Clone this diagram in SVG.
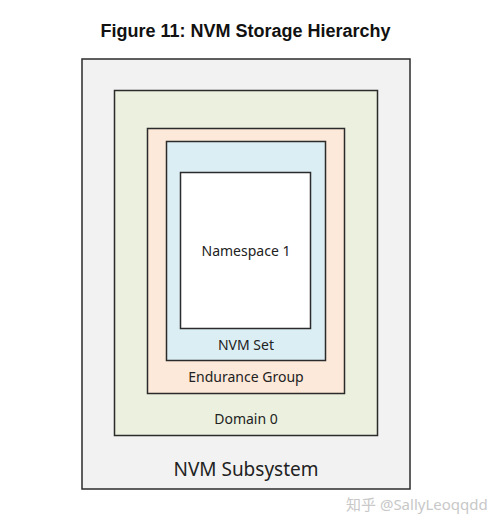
<svg xmlns="http://www.w3.org/2000/svg" width="501" height="528" viewBox="0 0 501 528">
<style>
.box{stroke:#2b2b2b;stroke-width:1.5}
.lbl{font-family:"Noto Sans","Open Sans",sans-serif;font-size:14px;fill:#222;text-anchor:middle}
.title{font-family:"Liberation Sans",Arial,sans-serif;font-size:18px;font-weight:bold;fill:#111;text-anchor:middle}
.wm{font-family:"Noto Sans","Noto Sans CJK SC",sans-serif;font-size:15px;fill:#c8c8c8;text-anchor:start}
</style>
<rect width="501" height="528" fill="#ffffff"/>
<text class="title" x="245.5" y="37">Figure 11: NVM Storage Hierarchy</text>
<g id="subsystem">
<rect class="box" x="82" y="59" width="328" height="430" fill="#f2f2f2"/>
<text class="lbl" x="246" y="476" style="font-size:19px">NVM Subsystem</text>
</g>
<g id="domain">
<rect class="box" x="114.5" y="90.5" width="263" height="345" fill="#ebf1de"/>
<text class="lbl" x="246" y="424">Domain 0</text>
</g>
<g id="endurance">
<rect class="box" x="147.5" y="128.5" width="197" height="265" fill="#fde9d9"/>
<text class="lbl" x="246" y="382">Endurance Group</text>
</g>
<g id="nvmset">
<rect class="box" x="166.5" y="141.5" width="159" height="219" fill="#dbeef4"/>
<text class="lbl" x="246" y="350">NVM Set</text>
</g>
<g id="namespace">
<rect class="box" x="180.5" y="172.5" width="130" height="156" fill="#ffffff"/>
<text class="lbl" x="246" y="256">Namespace 1</text>
</g>
<g id="connectors"></g>
<text class="wm" x="346" y="510">知乎 @SallyLeoqqdd</text>
</svg>
